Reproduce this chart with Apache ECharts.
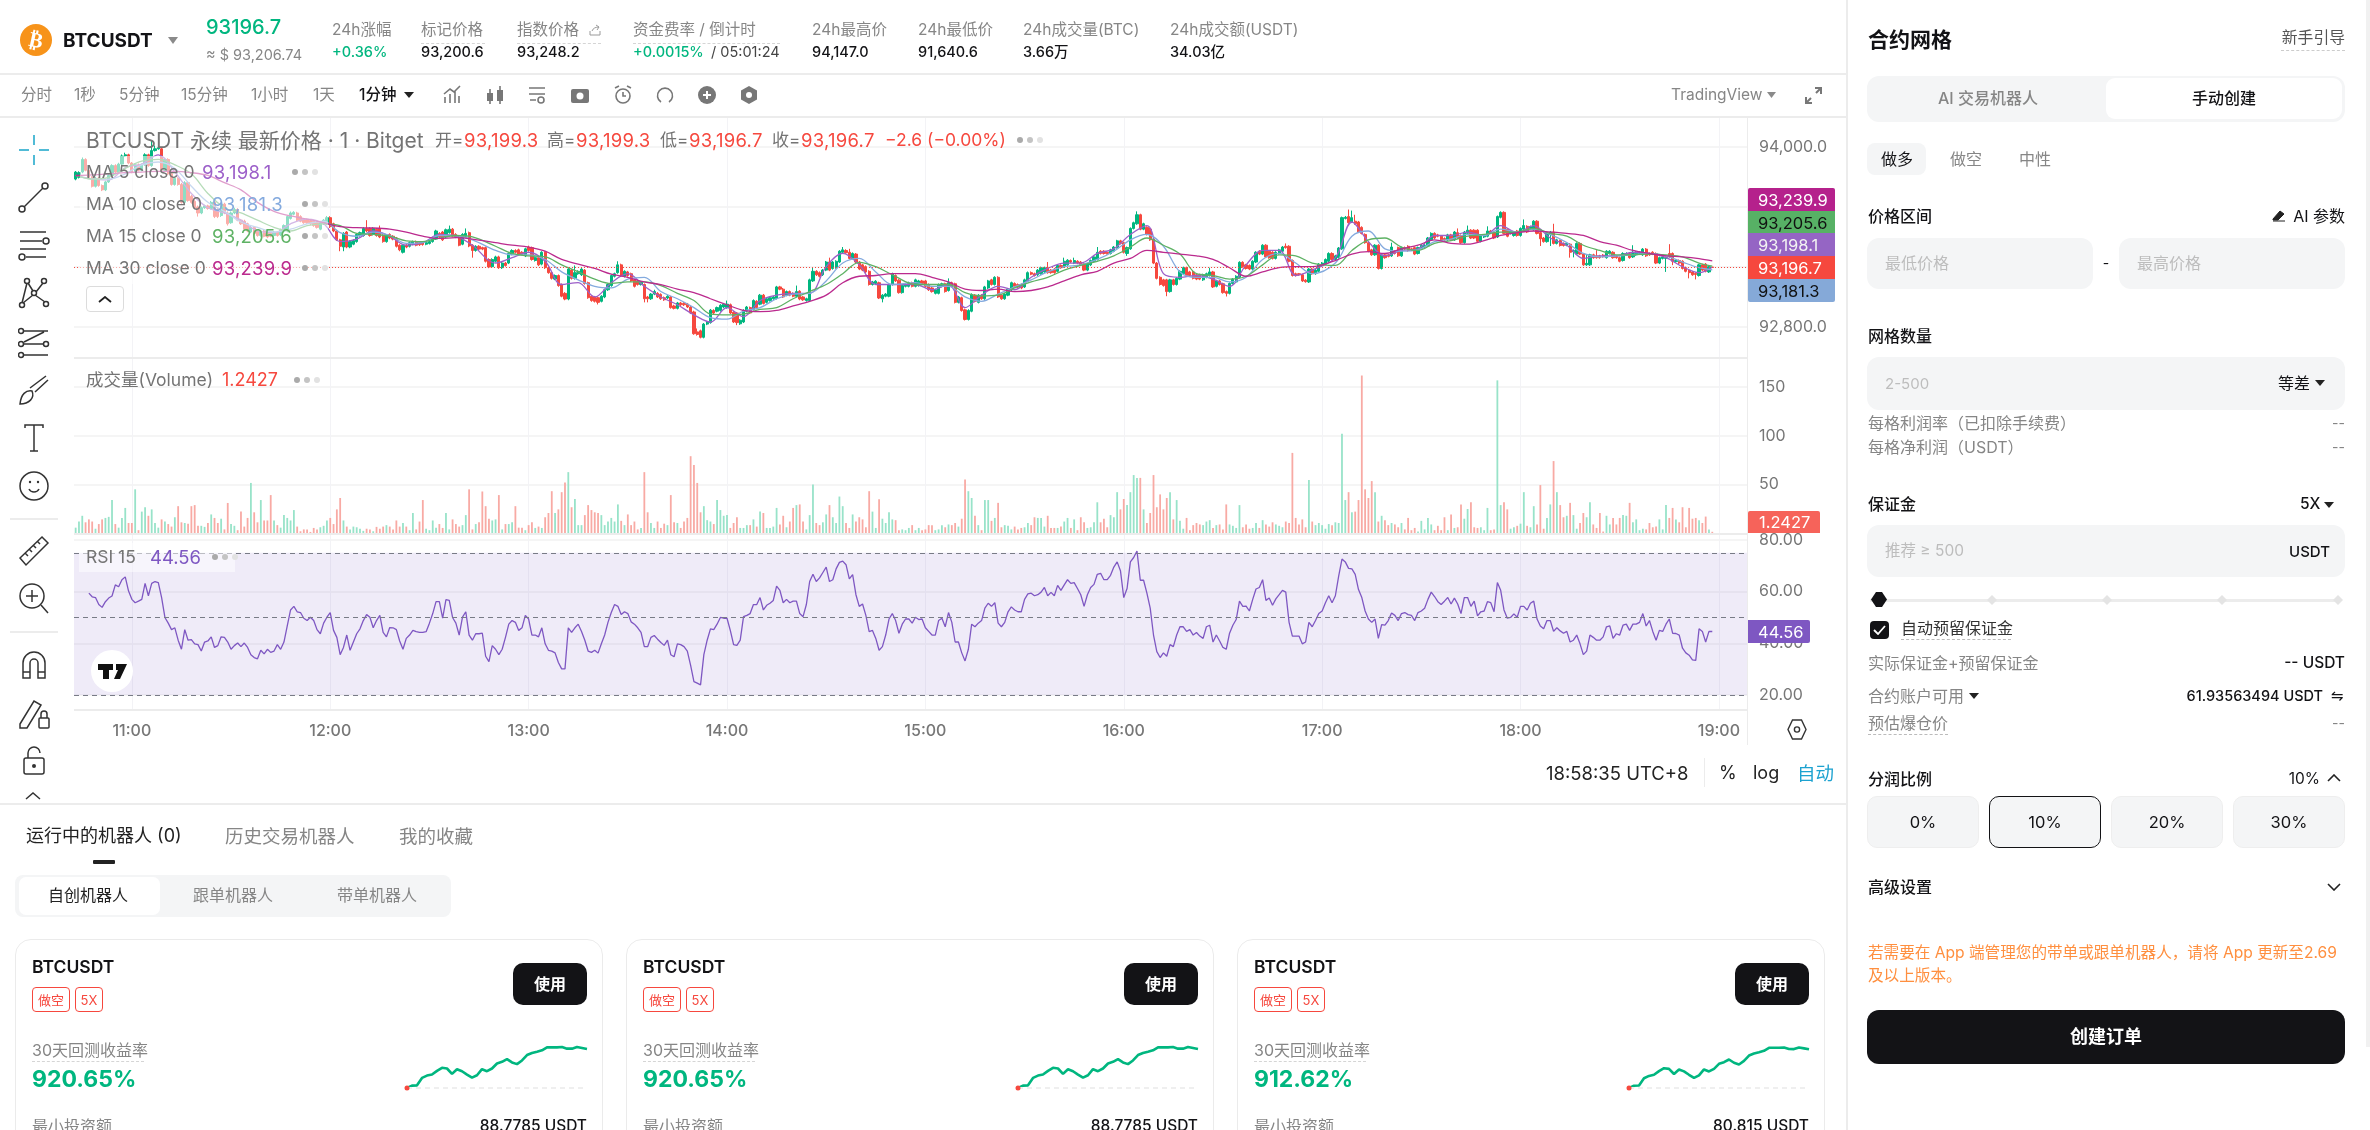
<!DOCTYPE html>
<html><head><meta charset="utf-8"><title>BTCUSDT</title>
<script src="https://cdn.jsdelivr.net/npm/echarts@6/dist/echarts.min.js"></script>
<style>
html,body{margin:0;padding:0;background:#fff;width:2370px;height:1130px;overflow:hidden}
#chart{position:absolute;left:0;top:0;width:2370px;height:1130px}
#ui{position:absolute;left:0;top:0;width:2370px;height:1130px;overflow:hidden;pointer-events:none;font-family:Inter,"Noto Sans CJK SC",sans-serif;color:#131316;font-size:16px}
#ui div,#ui svg{position:absolute}
.t{white-space:nowrap;line-height:1;transform:translateY(-50%)}
</style></head><body><div id="chart"></div><div id="ui"></div>
<script>
const opens=[93786,93798,93833,93917,93845,93798,93738,93791,93743,93714,93767,93810,93876,93833,93886,93940,93948,93893,93833,93881,93845,93881,93948,93876,93976,93988,93988,93845,93917,93821,93750,93791,93750,93631,93762,93671,93638,93600,93560,93595,93607,93590,93631,93583,93543,93619,93560,93495,93560,93583,93512,93505,93488,93433,93464,93440,93410,93440,93424,93424,93410,93433,93414,93440,93440,93524,93552,93560,93536,93519,93514,93510,93505,93495,93452,93488,93488,93529,93488,93440,93381,93333,93433,93333,93352,93369,93410,93410,93457,93457,93417,93452,93457,93410,93369,93417,93405,93393,93345,93298,93345,93338,93352,93369,93362,93360,93352,93357,93369,93386,93424,93433,93400,93429,93452,93417,93400,93352,93405,93429,93345,93310,93338,93329,93329,93250,93202,
93238,93267,93195,93226,93226,93286,93310,93314,93298,93274,93333,93329,93243,93262,93219,93298,93195,93162,93119,93143,93083,93024,92986,93179,93124,93155,93148,93179,93095,93005,93000,92995,92971,93000,93048,93076,93138,93162,93214,93138,93167,93155,93114,93107,93083,93083,93000,92988,93019,93024,93017,92995,92993,93000,92940,92924,92960,92957,92952,92933,92900,92767,92774,92731,92819,92829,92910,92905,92910,92933,92929,92948,92898,92893,92821,92833,92905,92929,92917,92971,92952,93012,92964,92976,92988,92990,93067,93052,93012,93036,93024,93005,93038,93000,92976,92976,93107,93171,93162,93148,93179,93233,93190,93195,93233,93298,93310,93298,93257,93286,93233,93214,93202,93171,93083,93090,93095,92988,93005,93005,93083,93143,93112,93029,93071,93071,93095,
93071,93076,93107,93107,93083,93060,93024,93024,93071,93088,93043,93095,93088,92964,92995,92914,92850,92905,93012,92964,93012,92988,93060,93114,93083,93131,93012,92988,93012,93048,93090,93083,93083,93067,93107,93162,93155,93148,93155,93167,93195,93179,93186,93171,93210,93202,93214,93243,93226,93238,93233,93221,93179,93214,93238,93250,93305,93305,93298,93290,93305,93329,93374,93362,93290,93321,93457,93488,93548,93452,93464,93452,93386,93226,93131,93114,93114,93036,93114,93083,93119,93155,93195,93167,93167,93148,93148,93114,93131,93143,93167,93071,93107,93088,93036,93024,93090,93100,93131,93231,93214,93210,93186,93233,93305,93286,93345,93305,93298,93257,93290,93305,93338,93338,93243,93155,93155,93148,93112,93100,93186,93155,93171,93210,93219,93238,93290,
93250,93262,93321,93524,93536,93500,93505,93500,93464,93417,93362,93314,93281,93345,93190,93281,93281,93274,93305,93329,93274,93329,93338,93321,93329,93290,93321,93333,93340,93381,93424,93414,93405,93390,93381,93414,93381,93429,93410,93362,93424,93445,93445,93445,93371,93400,93405,93440,93433,93400,93531,93564,93452,93424,93410,93440,93410,93452,93471,93457,93448,93505,93429,93393,93369,93417,93433,93357,93376,93357,93345,93352,93302,93286,93357,93286,93214,93214,93281,93274,93274,93279,93262,93290,93298,93271,93262,93243,93281,93290,93267,93281,93290,93281,93319,93290,93298,93290,93226,93257,93257,93290,93290,93236,93243,93238,93195,93179,93167,93157,93143,93214,93219,93167,93199.3];
const closes=[93833,93829,93917,93845,93798,93738,93791,93743,93714,93767,93810,93876,93833,93886,93940,93948,93893,93833,93881,93845,93881,93948,93876,93976,93988,93995,93845,93917,93821,93750,93791,93750,93631,93762,93643,93631,93595,93560,93595,93607,93590,93631,93536,93536,93619,93560,93488,93560,93583,93512,93488,93452,93440,93464,93424,93410,93440,93405,93400,93405,93433,93410,93448,93476,93536,93560,93564,93512,93505,93495,93495,93488,93476,93464,93495,93512,93529,93469,93440,93381,93338,93424,93333,93369,93376,93417,93429,93457,93440,93410,93457,93410,93400,93369,93410,93393,93386,93338,93314,93345,93333,93362,93369,93345,93348,93350,93362,93369,93393,93440,93400,93381,93448,93452,93405,93400,93345,93417,93424,93340,93310,93338,93319,93319,93238,93200,93250,
93267,93195,93226,93210,93290,93310,93298,93281,93286,93321,93310,93250,93262,93214,93298,93195,93162,93124,93143,93076,93005,92986,93186,93124,93162,93171,93186,93090,92995,92976,92971,92964,93005,93048,93083,93143,93155,93214,93143,93171,93143,93107,93071,93083,93100,92988,92988,93019,93036,93000,92988,92981,93005,92929,92924,92960,92948,92948,92933,92893,92755,92750,92731,92819,92833,92912,92893,92929,92945,92952,92952,92893,92833,92829,92845,92910,92933,92893,92976,92929,93012,92957,92988,92995,93000,93067,93052,93000,93036,93012,93005,93036,92986,92981,92988,93114,93171,93148,93138,93179,93233,93179,93233,93238,93305,93314,93295,93257,93290,93233,93186,93179,93167,93083,93100,93105,92993,93012,93019,93083,93155,93107,93029,93076,93083,93095,93071,
93114,93107,93090,93071,93048,93036,93048,93083,93088,93036,93095,93071,92964,93000,92910,92850,92910,93017,92971,93012,92988,93067,93107,93083,93131,93000,92988,93019,93052,93095,93071,93067,93060,93114,93162,93152,93143,93179,93195,93195,93162,93162,93162,93210,93195,93238,93245,93233,93243,93226,93214,93179,93221,93243,93267,93298,93290,93290,93290,93314,93333,93374,93357,93298,93329,93457,93495,93548,93452,93488,93417,93381,93226,93124,93083,93076,93036,93114,93083,93124,93171,93195,93143,93143,93124,93119,93119,93148,93155,93167,93067,93107,93083,93029,93024,93090,93119,93138,93231,93202,93190,93186,93238,93298,93286,93345,93267,93262,93257,93298,93314,93333,93329,93238,93143,93143,93148,93107,93102,93186,93155,93179,93219,93226,93250,93290,93250,
93274,93326,93529,93531,93495,93529,93488,93433,93424,93362,93305,93281,93345,93190,93281,93262,93271,93333,93290,93274,93329,93319,93310,93314,93286,93329,93345,93345,93393,93424,93393,93405,93381,93381,93414,93381,93433,93393,93362,93433,93445,93393,93393,93371,93410,93410,93440,93429,93393,93536,93564,93424,93405,93438,93433,93410,93457,93476,93433,93469,93505,93424,93388,93369,93424,93433,93357,93381,93343,93343,93357,93298,93310,93357,93286,93214,93224,93281,93262,93262,93262,93269,93305,93305,93262,93262,93238,93290,93290,93262,93290,93298,93298,93319,93274,93281,93286,93226,93262,93267,93262,93267,93238,93243,93226,93190,93171,93162,93148,93150,93214,93179,93171,93202,93196.7];
const highs=[93840,93838,93930,93925,93852,93805,93800,93800,93750,93775,93818,93885,93885,93895,93950,93962,93955,93900,93890,93890,93890,93958,93955,94040,94010,94018,94000,93925,93925,93830,93800,93798,93760,93772,93772,93680,93645,93610,93603,93615,93615,93640,93640,93592,93628,93628,93570,93570,93595,93592,93520,93515,93495,93472,93472,93448,93448,93448,93432,93432,93440,93440,93455,93484,93545,93570,93572,93568,93545,93525,93522,93518,93512,93502,93502,93520,93540,93538,93495,93448,93388,93432,93440,93378,93384,93425,93436,93465,93512,93465,93465,93460,93476,93418,93418,93424,93412,93400,93352,93352,93352,93370,93376,93376,93370,93366,93370,93376,93400,93448,93432,93440,93456,93476,93460,93425,93408,93425,93457,93436,93352,93345,93345,93335,93336,93258,93258,
93275,93275,93234,93234,93298,93318,93318,93322,93305,93328,93342,93336,93270,93270,93305,93305,93202,93170,93150,93150,93090,93032,93195,93186,93210,93178,93192,93186,93102,93012,93007,93003,93012,93055,93090,93150,93162,93238,93222,93178,93174,93162,93122,93114,93107,93090,93007,93026,93048,93032,93024,93003,93012,93007,92948,92967,92967,92965,92960,92940,92908,92790,92782,92826,92840,92920,92918,92936,92952,92960,92976,92956,92905,92900,92852,92918,92940,92936,92984,92978,93020,93020,92995,93002,93007,93074,93074,93060,93043,93043,93031,93076,93045,93007,92995,93122,93195,93178,93170,93186,93240,93262,93240,93245,93312,93333,93318,93321,93297,93293,93240,93221,93210,93178,93107,93112,93102,93019,93026,93090,93162,93150,93119,93083,93090,93102,93102,
93122,93114,93114,93114,93090,93067,93055,93090,93095,93095,93124,93102,93095,93007,93002,92922,92918,93024,93019,93019,93019,93074,93114,93121,93138,93138,93019,93026,93060,93102,93097,93090,93090,93122,93170,93170,93162,93186,93202,93202,93233,93186,93193,93217,93217,93262,93252,93250,93262,93245,93240,93228,93228,93250,93274,93333,93312,93312,93305,93321,93340,93381,93381,93369,93336,93464,93502,93571,93555,93495,93471,93460,93393,93233,93138,93121,93121,93121,93121,93131,93178,93202,93202,93174,93174,93155,93155,93155,93162,93195,93174,93114,93114,93095,93043,93097,93126,93145,93238,93238,93221,93217,93245,93305,93312,93352,93352,93312,93305,93305,93321,93340,93357,93345,93250,93162,93160,93155,93119,93193,93193,93186,93226,93233,93257,93298,93298,
93281,93333,93536,93540,93583,93576,93548,93507,93471,93424,93370,93321,93352,93352,93288,93288,93288,93362,93312,93336,93336,93336,93345,93328,93336,93336,93352,93352,93400,93431,93431,93421,93412,93397,93421,93421,93440,93457,93417,93440,93476,93452,93452,93452,93417,93417,93471,93447,93440,93543,93571,93571,93459,93445,93440,93447,93464,93517,93478,93476,93512,93512,93436,93400,93431,93440,93488,93388,93383,93364,93364,93359,93317,93364,93364,93293,93286,93288,93288,93312,93281,93286,93312,93312,93305,93278,93269,93298,93298,93298,93345,93305,93305,93326,93326,93297,93305,93297,93269,93274,93269,93352,93297,93250,93250,93245,93202,93186,93174,93164,93221,93221,93226,93209,93199.3];
const lows=[93778,93790,93825,93838,93790,93730,93730,93735,93706,93706,93760,93802,93826,93826,93880,93935,93885,93825,93826,93838,93838,93875,93868,93868,93970,93982,93838,93838,93814,93742,93742,93742,93622,93622,93635,93622,93587,93536,93552,93588,93582,93583,93526,93526,93534,93552,93476,93488,93552,93505,93480,93444,93432,93426,93416,93402,93402,93398,93392,93398,93402,93402,93406,93432,93432,93516,93545,93505,93498,93488,93488,93480,93468,93456,93445,93480,93480,93460,93432,93373,93305,93305,93325,93325,93345,93362,93402,93402,93432,93402,93410,93402,93392,93362,93362,93385,93378,93330,93305,93290,93325,93330,93345,93338,93340,93342,93345,93350,93362,93380,93392,93373,93392,93422,93398,93392,93338,93345,93398,93332,93262,93302,93312,93312,93230,93192,93195,
93230,93187,93187,93202,93219,93278,93290,93274,93278,93266,93302,93242,93236,93206,93211,93187,93155,93116,93112,93068,92998,92978,92978,93116,93116,93148,93140,93082,92988,92968,92963,92950,92964,92992,93040,93068,93130,93155,93135,93130,93135,93100,93063,93076,93076,92964,92964,92980,93012,92993,92980,92974,92986,92922,92917,92917,92940,92940,92926,92886,92748,92742,92724,92724,92812,92822,92886,92898,92902,92926,92922,92886,92826,92812,92814,92826,92898,92886,92910,92922,92945,92950,92957,92969,92981,92983,93045,92993,93005,93005,92998,92998,92978,92974,92969,92969,93100,93140,93130,93140,93172,93172,93182,93188,93226,93291,93288,93250,93250,93226,93179,93172,93160,93076,93076,93083,92986,92964,92998,92998,93076,93100,93022,93022,93064,93064,93064,
93064,93069,93083,93064,93040,93029,93017,93017,93064,93029,93036,93064,92957,92957,92902,92843,92843,92898,92964,92957,92981,92981,93052,93076,93076,92993,92981,92981,93005,93040,93064,93060,93052,93060,93100,93145,93136,93140,93148,93160,93155,93155,93155,93164,93188,93195,93207,93226,93219,93219,93207,93172,93172,93207,93231,93243,93283,93283,93283,93283,93298,93322,93350,93290,93274,93314,93450,93481,93445,93445,93410,93374,93219,93117,93076,93069,93005,93029,93076,93076,93112,93148,93136,93136,93117,93112,93112,93107,93124,93136,93060,93064,93076,93022,93003,93017,93083,93093,93124,93195,93183,93179,93179,93226,93279,93279,93260,93255,93250,93250,93283,93298,93322,93231,93136,93136,93141,93100,93095,93093,93148,93148,93164,93202,93212,93231,93243,
93243,93255,93314,93517,93488,93493,93481,93426,93417,93355,93298,93274,93274,93183,93183,93255,93264,93267,93283,93267,93267,93312,93302,93307,93279,93283,93314,93326,93333,93374,93386,93398,93374,93374,93374,93374,93374,93386,93355,93355,93417,93386,93386,93364,93364,93393,93398,93421,93386,93393,93524,93417,93398,93417,93402,93402,93402,93445,93426,93450,93441,93417,93340,93362,93362,93340,93350,93350,93336,93336,93338,93262,93264,93279,93279,93207,93207,93207,93255,93255,93255,93262,93255,93283,93255,93255,93231,93236,93274,93255,93260,93274,93283,93274,93267,93274,93279,93219,93219,93250,93167,93260,93212,93229,93219,93183,93164,93124,93141,93117,93136,93172,93164,93160,93196.7];
const volumes=[5.5,11.8,17.7,11,14,11.8,4.4,9.2,14,15.5,16.6,33.9,9.2,5.5,15.5,25.8,10.3,10.3,44.9,2.9,22,26.5,17.7,24.3,10.3,5.5,14,11.8,9.2,6.6,16.2,27.6,11,10.3,9.6,27.6,28.7,7.4,7.4,6.3,10.3,19.1,15.5,10.3,14.7,3.7,30.9,9.2,7.4,2.9,22,6.6,15.5,51.5,21.3,11,33.9,12.9,12.9,39,12.9,8.1,5.5,18.4,15.5,12.9,23.6,6.6,1.8,3.7,3.7,1.1,5.2,3.7,5.9,7.4,12.9,15.5,9.2,24.3,36,12.9,6.6,3.7,6.6,5.9,4.4,2.2,4.4,3.7,1.8,6.3,4.4,6.6,8.1,6.6,3.7,12.9,6.6,10.3,6.6,2.9,20.6,3.7,11.8,33.9,4.4,2.9,12.9,5.5,9.2,5.2,20.6,3.7,14,9.2,6.6,8.1,18.4,44.9,3.7,9.2,11,42.7,27.6,14.7,12.9,
14,39,3.7,9.2,9.2,11,27.6,5.5,5.5,2.9,8.1,11,5.2,6.6,5.2,16.2,20.6,43,20.6,24.3,42,52,62.6,26.5,35,8.1,8.1,18.4,28.7,23.6,21.3,20.6,18.4,8.1,11.8,15.5,11.8,29.4,12.5,8.1,19.1,8.1,11.8,3.7,5.2,62.6,21.3,10.3,5.2,11.8,5.2,9.6,8.1,39,11,10.3,5.2,11.8,15.5,79,70,51.5,21.3,27.6,13.2,11.8,9.2,33.9,23.6,17.7,18.4,5.2,10.3,16.2,5.2,5.2,8.1,8.1,14,6.6,22,20.6,5.2,5.2,6.6,25.8,8.8,17.7,5.9,11.8,25.8,28.7,29.4,11.8,3.7,18.4,50,10.3,8.1,11,19.1,28.7,16.2,10.3,37.5,27.6,10.3,5.2,19.1,11.8,16.2,14,5.9,43,22,5.2,34.6,14.7,10.3,21.3,14,13.2,2.9,3.7,2.9,5.2,8.1,
2.9,5.2,2.9,3.7,8.1,8.1,2.9,3.7,8.1,5.9,8.8,8.1,10.3,6.6,14.7,55,43,36,17.7,8.1,2.9,33.9,33.9,12.5,15.5,31,5.9,8.1,7.4,3.7,6.6,3.7,5.2,5.9,10.3,8.1,16.2,15.5,15.5,6.6,17.7,5.2,5.2,5.2,6.6,11.8,15.5,5.2,14,2.9,16.2,11,5.2,5.9,11,31.6,11,14.7,5.9,18.4,16.2,42,24.3,35,28.7,42,59.6,56.7,56.7,24.3,10.3,20.6,59.6,26.5,39.7,24.3,36,42,14,33.9,12.5,4.4,15.5,2.9,8.1,10.3,8.8,8.1,11.8,13.2,5.2,8.1,8.8,3.7,29.4,8.8,7.4,5.2,28.7,5.9,8.8,4.4,5.2,10.3,5.2,13.2,8.8,6.6,11,8.8,7.4,5.9,11.8,10.3,82.4,15.5,8.8,14,5.9,54.5,11.8,8.1,10.3,8.1,4.4,9.2,8.1,
11,10.3,102,33.9,42,21.3,22,33.9,162,44.9,36,53.4,42,11.8,17.7,13.2,8.1,10.3,8.8,5.9,10.3,3.7,15.5,2.9,5.2,1.5,12.5,3.7,15.5,8.8,2.9,7.4,2.9,16.2,2.9,19.1,5.2,5.9,29.4,14.7,24.7,31.6,5.9,5.2,5.9,2.9,25.8,2.9,3.7,157,28.7,31.6,24.3,4.4,5.9,7.4,9.6,42,7.4,5.9,27.6,8.8,49.3,4.4,15.5,29.4,74,42,28.7,16.2,17.7,31,18.4,4.4,10.3,20.6,16.2,31.6,8.8,5.2,20.6,1.5,17.7,8.8,15.5,8.8,15.5,18.4,17.7,31,11,14,2.9,4.4,3.7,10.3,5.9,6.6,14,3.7,28.7,15.5,25.8,14,11,26.5,5.9,25.8,14.7,15.5,13.2,10.3,16.9,3.7,1.2427];
const rsi15=[null,null,null,null,59.4,58,57.7,55,53.9,56.1,57.5,58.3,62.6,61.9,64.6,65.7,60.2,57,55.7,56.3,57,63.2,58.4,63.2,63.9,63.5,57.7,50,47.8,45.3,46,41.2,37.7,45.3,41.2,41.4,39.8,39.5,37,40.5,40.9,42.5,38.4,39.1,42.5,42.3,40.5,37.7,39.1,40.1,38.7,40.1,38.4,35.6,34.5,34,37.3,35.9,37.7,36.5,37,39.5,37.7,40.5,46.7,52.9,54.3,52.2,51.9,49.7,48.8,50.1,48.8,45.3,43.7,47.8,50.1,51.9,45,42.3,35.6,38.4,43.2,37.3,40.5,43.7,45.6,48.8,51.1,50.1,46,48.8,50.8,44.2,42.5,46.1,46,45.3,40.9,37.7,41.9,43.2,45,44.5,44.2,44.2,44.5,47.8,51.5,56.1,56.1,49.7,56.9,56.6,50,47.8,43.2,50.1,52.2,43.2,41.2,43.7,43.7,43.9,35,32.9,39.1,
37.7,35.6,37.7,42.3,47.4,48.8,48.1,45,46,50.8,49.4,43.2,43.2,42.5,46,39.8,37.3,37,36.3,32.6,30.1,30.1,46,44.2,46,47.4,44.6,41.2,37,36.5,37.3,36.2,39.8,43.2,48.1,51.9,55,54.3,51.1,52.2,51.5,48.3,47.4,46,44.2,38.7,38.7,42.3,43,41.6,40.3,39.2,41.2,35.6,34.8,39.8,39.5,38.7,37,31.5,25.2,24.6,23.9,35.6,41.2,45.6,45.3,47.4,50,49.7,49.7,45,39.5,39.2,41.2,50.3,50.8,51.5,55,55,57.7,52.9,54.7,55.5,56.6,62.1,60.5,55.7,57,55.7,56.3,56.3,51.5,50.3,55,63.9,66.7,63.9,65.3,67.4,69.5,63.9,64.6,68.8,71.3,71.8,70.4,64.9,66.6,58.8,54.3,55.2,50.8,44.5,45,41.9,37.3,38.7,43.2,49.4,51.5,48.8,43.9,47.4,49.4,49.4,47.8,
50.1,49.2,49.4,46,44.6,43.2,43.2,48.8,49.7,46.4,51.9,48.1,40.5,40.5,36.3,33.2,37.7,47.4,46.4,47.8,48.8,53.6,55.5,54.3,55.7,47.8,46.4,48.1,52.2,54.1,52.9,52.2,52.2,57,59.1,59.4,58.4,58.8,59.8,61.6,58.4,59.7,58.4,62.4,60.5,62.6,64.6,63.2,63.5,61.2,58.8,54.3,58.8,61.6,62.8,66.7,67.1,64.6,64.6,66.3,69.5,71.5,68.1,57.7,61.2,71.5,73.2,75.7,64.4,64.4,59.4,53.6,43.2,36.8,34.5,36.3,35,39.5,38.7,43.2,46.4,46.4,44.6,45.3,43.2,44.2,42.8,41.9,46.4,47,40.5,43.2,40.9,38.4,37.7,43.9,47,49.2,56.3,54.3,54.4,52.5,57,61,61.6,64.6,56.6,57.5,54.7,57.2,58.8,60.5,59.8,48.1,42.8,42.8,42.8,39.8,40.5,48.1,46.4,48.8,51.5,52.5,55.7,58.4,55.7,
58.4,66,72.6,71.5,69,68.8,66.7,60.8,57.7,52.5,49.4,48.1,49.4,41.9,47.2,47,48.8,51.7,50.8,48.8,51.5,51.9,51.1,50.8,48.8,51.9,52.5,53.6,57,59.8,58.1,56.1,55,56.3,57.7,55.2,57.5,55.2,51.5,57.7,57.7,54.3,56.3,50.6,52.2,52.5,56.1,55.7,52.2,63.5,60.5,52.9,49.7,50,51.4,50.1,54.3,54.3,52.9,55.5,56.3,49.4,46.7,45.6,48.8,48.8,44.6,46,44.8,43.9,44.6,40.5,41.2,43.2,39.8,35.6,37,43.2,42.3,41.2,41.2,42.5,46.4,46.7,41.9,43.7,43.2,47,47.4,45,47.4,47.4,48.1,51.5,46.7,48.8,44.6,41.2,45,44.6,47.4,49.4,43.9,43.8,43.2,38.1,36.3,35.4,33.6,33.4,45.6,44.6,40.5,44.6,44.56];
const ma5=[93810,93786,93781,93862,93886,93948,93833,93690,93595,93560,93512,93440,93429,93488,93519,93488,93369,93386,93440,93405,93345,93362,93417,93405,93345,93226,93262,93298,93238,93083,93095,93000,93095,93155,93071,93000,92948,92881,92833,92929,92869,92976,93012,93024,93024,93202,93290,93214,93083,93083,93083,93048,93083,92929,93012,93071,93048,93131,93190,93226,93226,93290,93321,93417,93476,93155,93131,93143,93119,93071,93214,93310,93310,93143,93179,93262,93500,93369,93274,93310,93321,93410,93410,93433,93410,93476,93429,93476,93393,93345,93257,93274,93274,93298,93290,93262,93202,93162,93198];
const ma10=[93810,93786,93786,93821,93881,93900,93857,93738,93631,93571,93500,93464,93433,93452,93488,93505,93429,93405,93433,93410,93357,93362,93410,93410,93381,93310,93281,93281,93250,93167,93114,93071,93060,93119,93131,93036,92988,92929,92862,92852,92905,92929,92988,93019,93024,93107,93226,93257,93167,93083,93095,93071,93071,93000,92971,93019,93067,93114,93167,93202,93214,93250,93305,93381,93417,93338,93167,93131,93131,93100,93131,93250,93290,93226,93155,93226,93405,93440,93321,93305,93314,93369,93386,93417,93410,93452,93433,93452,93417,93362,93290,93267,93274,93281,93290,93274,93233,93195,93181];
const ma15=[93810,93786,93798,93857,93905,93917,93881,93821,93690,93595,93560,93512,93464,93440,93476,93488,93476,93424,93417,93405,93374,93369,93393,93410,93400,93338,93290,93274,93267,93214,93167,93119,93090,93100,93100,93076,93024,92976,92886,92881,92886,92917,92929,92988,93036,93083,93155,93231,93202,93148,93083,93083,93083,93029,93007,93012,93060,93100,93131,93179,93210,93238,93274,93333,93393,93345,93286,93155,93143,93119,93138,93214,93281,93274,93226,93210,93310,93381,93393,93333,93310,93357,93376,93405,93417,93433,93433,93457,93424,93405,93345,93310,93281,93281,93286,93281,93267,93226,93206];
const ma30=[93810,93814,93821,93829,93833,93838,93838,93829,93810,93762,93714,93631,93571,93540,93519,93495,93469,93462,93460,93452,93433,93405,93390,93395,93386,93362,93345,93333,93305,93250,93219,93190,93152,93131,93100,93083,93052,93029,92988,92948,92910,92902,92910,92940,92971,93012,93095,93138,93143,93155,93155,93131,93100,93052,93043,93052,93036,93043,93067,93107,93148,93171,93226,93257,93310,93298,93286,93274,93250,93195,93138,93167,93195,93202,93202,93243,93286,93302,93290,93321,93345,93381,93357,93352,93376,93410,93429,93440,93433,93424,93410,93369,93345,93310,93290,93274,93267,93255,93240];
const maIndex=[0,5,10,15,20,25,30,35,40,45,50,55,60,65,70,75,80,85,90,95,100,105,110,115,120,127,132,137,142,147,152,157,162,167,172,177,182,187,192,197,202,207,212,217,222,227,232,237,242,247,254,259,264,269,274,279,284,289,294,299,304,309,314,319,324,329,334,339,344,349,354,359,364,369,374,381,386,391,396,401,406,411,416,421,426,431,436,441,446,451,456,461,466,471,476,481,486,491,495];
const spark1=[0,56,63,238,293,317,404,476,460,333,444,396,317,246,301,444,396,460,579,618,682,603,563,650,777,825,856,888,959,959,959,967,928,928,967,944,920];
const spark2=[0,56,63,238,293,317,404,476,460,333,444,396,317,246,301,444,396,460,579,618,682,603,563,650,777,825,856,888,959,959,959,967,928,928,967,944,920];
const spark3=[0,52,60,230,285,312,398,468,452,330,438,392,312,240,298,438,390,452,570,610,672,596,556,640,766,815,846,878,948,950,948,956,920,918,955,935,912];
const hourLabels=["11:00","12:00","13:00","14:00","15:00","16:00","17:00","18:00","19:00"];
const priceGrid=[94000,93600,93200,92800],priceLabels=[94000,92800],volTicks=[50,100,150],rsiTicks=[20,40,60,80];
const lastPrice=93196.7;
const minutes=[];for(let m=10*60+43;m<=19*60+8;m++){minutes.push(String(Math.floor(m/60)).padStart(2,'0')+':'+String(m%60).padStart(2,'0'))}
const UP='#00b67f',DN='#f6483e';
const isHour=(i,v)=>hourLabels.includes(v);
const grid=(top,height)=>({left:74,width:1673,top,height});
const xBase=(g,label)=>({type:'category',gridIndex:g,data:minutes,boundaryGap:true,axisLine:{show:false},
 axisTick:{show:false,alignWithLabel:true,interval:isHour},
 splitLine:{show:true,alignWithLabel:true,interval:isHour,lineStyle:{color:'#f3f3f6',width:1}},
 axisLabel:label?{show:true,interval:isHour,color:'#777',fontSize:16,fontWeight:500,fontFamily:'Inter',margin:13,hideOverlap:false}:{show:false}});
const yBase=(g,min,max,ticks,labels,fmt)=>({type:'value',gridIndex:g,position:'right',min,max,scale:true,
 axisLine:{show:false},axisTick:{show:false,customValues:ticks},
 splitLine:{show:true,lineStyle:{color:'#f2f2f2',width:1.5}},
 axisLabel:{show:true,customValues:labels,formatter:fmt,color:'#777',fontSize:16,fontFamily:'Inter',margin:12,align:'left'}});
const fmt1=v=>Number(v).toLocaleString('en-US',{minimumFractionDigits:1,maximumFractionDigits:1});
const maLine=(vals,color,name)=>({name,type:'line',xAxisIndex:0,yAxisIndex:0,data:vals.map((v,k)=>[maIndex[k],v]),symbol:'none',smooth:0.35,lineStyle:{color,width:1.3},silent:true,z:4});
const hidden=(g,d)=>({type:'category',gridIndex:g,data:d.map((_,i)=>i),show:false,boundaryGap:false});
const sparkSeries=(d,i)=>({type:'line',xAxisIndex:3+i,yAxisIndex:3+i,data:d,symbol:'none',silent:true,lineStyle:{color:UP,width:2.6},
 markLine:{silent:true,symbol:'none',label:{show:false},lineStyle:{color:'#efefef',type:[5,4],width:2},data:[{yAxis:0}]},
 markPoint:{silent:true,symbol:'circle',symbolSize:5,itemStyle:{color:DN},label:{show:false},data:[{coord:[0,0]}]}});
const chart=echarts.init(document.getElementById('chart'),null,{renderer:'canvas'});
chart.setOption({animation:false,backgroundColor:'#fff',
 grid:[grid(117,241),grid(358,175),grid(535,175),{left:407,width:180,top:1046,height:42},{left:1018,width:180,top:1046,height:42},{left:1629,width:180,top:1046,height:42}],
 xAxis:[xBase(0,false),xBase(1,false),xBase(2,true),hidden(3,spark1),hidden(4,spark2),hidden(5,spark3)],
 yAxis:[yBase(0,92593,94200,priceGrid,priceLabels,fmt1),
  yBase(1,0,180,volTicks,volTicks,v=>String(v)),
  yBase(2,14.2,81.9,rsiTicks,rsiTicks,v=>Number(v).toFixed(2)),
  {type:'value',gridIndex:3,min:0,max:991,show:false},{type:'value',gridIndex:4,min:0,max:991,show:false},{type:'value',gridIndex:5,min:0,max:991,show:false}],
 series:[
  {name:'BTCUSDT',type:'candlestick',xAxisIndex:0,yAxisIndex:0,barWidth:2.7,silent:true,z:3,
   data:closes.map((c,i)=>[opens[i],c,lows[i],highs[i]]),
   itemStyle:{color:UP,color0:DN,borderColor:UP,borderColor0:DN,borderWidth:1},
   markLine:{silent:true,symbol:'none',label:{show:false},lineStyle:{color:DN,type:[1,2],width:1},data:[{yAxis:lastPrice}]}},
  maLine(ma5,'#9c5fc9','MA 5'),maLine(ma10,'#84aade','MA 10'),maLine(ma15,'#5eb264','MA 15'),maLine(ma30,'#bb2a8e','MA 30'),
  {name:'Volume',type:'bar',xAxisIndex:1,yAxisIndex:1,barWidth:1.8,silent:true,
   data:volumes.map((v,i)=>({value:v,itemStyle:{color:closes[i]>=opens[i]?'#98e3c9':'#f8aaa4'}}))},
  {name:'RSI',type:'line',xAxisIndex:2,yAxisIndex:2,data:rsi15,symbol:'none',silent:true,connectNulls:false,lineStyle:{color:'#7e57c2',width:1.3},z:4,
   markArea:{silent:true,itemStyle:{color:'rgba(126,87,194,0.12)'},data:[[{yAxis:20},{yAxis:75}]]},
   markLine:{silent:true,symbol:'none',label:{show:false},lineStyle:{color:'#787b86',type:[5,4],width:1},data:[{yAxis:75},{yAxis:50},{yAxis:20}]}},
  sparkSeries(spark1,0),sparkSeries(spark2,1),sparkSeries(spark3,2)
 ]});

/* ---------- page chrome around the chart ---------- */
const ui=document.getElementById('ui');
function R(x,y,w,h,st){const d=document.createElement('div');d.style.cssText=`left:${x}px;top:${y}px;width:${w}px;height:${h}px;`+(st||'');ui.appendChild(d);return d}
function T(s,x,y,st,a){const d=document.createElement('div');d.className='t';d.textContent=s;
 const tx=a==='c'?'translate(-50%,-50%)':a==='r'?'translate(-100%,-50%)':'translateY(-50%)';
 d.style.cssText=`left:${x}px;top:${y}px;transform:${tx};`+(st||'');ui.appendChild(d);return d}
function S(x,y,w,h,inner,vb){const n=document.createElementNS('http://www.w3.org/2000/svg','svg');n.setAttribute('width',w);n.setAttribute('height',h);n.setAttribute('viewBox',vb||`0 0 ${w} ${h}`);n.style.left=x+'px';n.style.top=y+'px';n.innerHTML=inner;ui.appendChild(n);return n}
const G='color:#868686;',GR='color:#00b67f;',RD='color:#f6483e;';
const LINE='#ececec';
/* legend veils sit over the candles */
R(80,156,238,32,'background:rgba(255,255,255,.55)');R(80,188,248,32,'background:rgba(255,255,255,.55)');R(80,220,248,32,'background:rgba(255,255,255,.55)');R(80,252,248,32,'background:rgba(255,255,255,.55)');R(79,543,156,29,'background:rgba(255,255,255,.5)');
/* frame lines */
R(0,73,1846,2,`background:${LINE}`);R(0,116,1846,2,`background:${LINE}`);
R(74,357,1673,2,`background:${LINE}`);R(74,533,1673,2,`background:${LINE}`);R(74,709,1673,2,`background:${LINE}`);
R(1747,117,1,628,`background:${LINE}`);R(0,803,1846,2,`background:${LINE}`);R(1846,0,2,1130,`background:${LINE}`);
R(2366,0,4,1047,'background:#f1f1f1');R(1704,758,1,29,`background:${LINE}`);
/* header */
S(20,24,32,32,'<circle cx="16" cy="16" r="16" fill="#f7931a"/><text x="16" y="23" font-size="21" font-weight="700" fill="#fff" text-anchor="middle" font-family="DejaVu Sans" transform="rotate(12 16 16)">₿</text>');
T('BTCUSDT',63,40,'font-size:19px;font-weight:700');S(168,37,10,7,'<path d="M0 0H10L5 7Z" fill="#8a8a8a"/>');
T('93196.7',206,27,'font-size:20px;font-weight:500;'+GR);T('≈ $ 93,206.74',206,55,'font-size:14.5px;'+G);
const heads=[['24h涨幅',332,'+0.36%',GR],['标记价格',421,'93,200.6',''],['指数价格',517,'93,248.2',''],['资金费率 / 倒计时',633,null,''],['24h最高价',812,'94,147.0',''],['24h最低价',918,'91,640.6',''],['24h成交量(BTC)',1023,'3.66万',''],['24h成交额(USDT)',1170,'34.03亿','']];
heads.forEach(h=>{T(h[0],h[1],30,'font-size:15.5px;'+G);if(h[2])T(h[2],h[1],52,'font-size:14.5px;font-weight:500;'+h[3])});
T('+0.0015%',633,52,'font-size:14.5px;font-weight:500;'+GR);T('/ 05:01:24',711,52,'font-size:14.5px;color:#444');
[[421,64],[517,84],[633,147]].forEach(a=>R(a[0],43,a[1],0,'border-top:1px dashed #d5d5d5'));
S(589,24,12,12,'<path d="M1 7V11H11V7M3 7C4 4 7 3 10 3M7 1L10 3L8 6" fill="none" stroke="#9a9a9a" stroke-width="1"/>');
/* toolbar */
[['分时',21],['1秒',74],['5分钟',119],['15分钟',181],['1小时',251],['1天',313]].forEach(a=>T(a[0],a[1],95,'font-size:15.5px;'+G));
T('1分钟',359,95,'font-size:15.5px;font-weight:500');S(404,92,10,6,'<path d="M0 0H10L5 6Z" fill="#222"/>');
const tb='fill="none" stroke="#777" stroke-width="1.6"';
S(443,85,18,20,`<path d="M2 18V12M7 18V9M12 18V6M16 18V11M1 9L7 4L11 7L17 1" ${tb}/>`);
S(486,85,18,20,'<path d="M1 8H7V16H1ZM11 5H17V16H11Z" fill="#777"/><path d="M4 4V19M14 1V19" stroke="#777" stroke-width="1.6"/>');
S(528,86,18,18,`<path d="M1 2H17M1 8H17M2 14H8" ${tb}/><circle cx="13" cy="14" r="3" ${tb}/>`);
S(571,87,18,16,'<rect x="0" y="2" width="18" height="14" rx="2" fill="#777"/><circle cx="9" cy="9" r="3.5" fill="#fff"/>');
S(614,85,18,20,`<circle cx="9" cy="11" r="7" ${tb}/><path d="M9 7V11H12M1 3L5 1M17 3L13 1" ${tb}/>`);
S(656,86,18,18,`<path d="M5 16A7.5 7.5 0 1 1 13 16" ${tb} stroke-width="2"/>`);
S(698,86,18,18,'<circle cx="9" cy="9" r="9" fill="#777"/><path d="M9 5V13M5 9H13" stroke="#fff" stroke-width="2"/>');
S(740,86,18,18,'<path d="M9 0L17 4.5V13.5L9 18L1 13.5V4.5Z" fill="#777"/><circle cx="9" cy="9" r="3" fill="#fff"/>');
T('TradingView',1671,95,'font-size:15.5px;'+G);S(1767,92,9,6,'<path d="M0 0H9L4.5 6Z" fill="#8a8a8a"/>');
S(1805,87,17,17,'<path d="M10 1H16V7M16 1L11 6M7 16H1V10M1 16L6 11" fill="none" stroke="#777" stroke-width="2"/>');
/* left drawing tools */
const lt='fill="none" stroke="#333" stroke-width="1.5"';
S(18,134,32,32,'<path d="M16 1V11M16 21V31M1 16H11M21 16H31" stroke="#19a5c9" stroke-width="1.5"/>');
S(18,181,32,32,`<circle cx="4" cy="28" r="3" ${lt}/><circle cx="27" cy="5" r="3" ${lt}/><path d="M6 26L25 7" ${lt}/>`);
S(18,229,32,32,`<path d="M2 3H28M2 12H24M8 28H28M2 20H28" ${lt}/><circle cx="28" cy="12" r="3" ${lt}/><circle cx="4" cy="28" r="3" ${lt}/>`);
S(18,277,32,32,`<circle cx="9" cy="4" r="2.5" ${lt}/><circle cx="26" cy="4" r="2.5" ${lt}/><circle cx="16" cy="16" r="2.5" ${lt}/><circle cx="4" cy="28" r="2.5" ${lt}/><circle cx="28" cy="27" r="2.5" ${lt}/><path d="M9 6L4 26M10 6L15 14M25 6L18 15M17 18L27 25M15 18L5 26M11 4" ${lt}/>`);
S(18,327,32,32,`<circle cx="3" cy="4" r="2.5" ${lt}/><circle cx="3" cy="17" r="2.5" ${lt}/><circle cx="3" cy="28" r="2.5" ${lt}/><circle cx="28" cy="17" r="2.5" ${lt}/><path d="M6 4H30M6 28H30M6 17H25M6 15L26 5" ${lt}/>`);
S(18,374,32,32,`<path d="M2 30C3 20 8 16 14 17C17 24 11 30 2 30ZM12 14L28 2M17 18L30 6" ${lt}/>`);
S(24,424,20,28,'<path d="M1 4V1H19V4M10 1V27M6 27H14" fill="none" stroke="#333" stroke-width="1.5"/>');
S(18,470,32,32,`<circle cx="16" cy="16" r="14" ${lt}/><circle cx="12" cy="12" r="1.2" fill="#333"/><circle cx="20" cy="12" r="1.2" fill="#333"/><path d="M11 19C13 23 19 23 21 19" ${lt}/>`);
R(10,518,48,2,`background:${LINE}`);
S(18,535,32,32,`<path d="M2 23L24 2L30 8L8 30ZM7 18L10 21M11 14L14 17M15 10L18 13M19 6L22 9" ${lt}/>`);
S(18,582,32,32,`<circle cx="14" cy="14" r="12" ${lt}/><path d="M14 8V20M8 14H20M23 23L30 31" ${lt}/>`);
R(10,631,48,2,`background:${LINE}`);
S(21,650,26,30,`<path d="M2 28V13A11 11 0 0 1 24 13V28H17V13A4 4 0 0 0 9 13V28ZM2 22H9M17 22H24" ${lt}/>`);
S(18,698,32,32,`<path d="M2 26L16 3L23 7L9 30L2 30Z" ${lt}/><rect x="21" y="20" width="10" height="10" rx="1" ${lt}/><path d="M23 20V16A3 3 0 0 1 29 16V20" ${lt}/>`);
S(22,745,24,30,`<rect x="2" y="13" width="20" height="16" rx="2" ${lt}/><path d="M6 13V8A6 6 0 0 1 18 8" ${lt}/><circle cx="12" cy="21" r="2" fill="#333"/>`);
S(24,792,18,8,'<path d="M2 7L9 1L16 7" fill="none" stroke="#333" stroke-width="1.5"/>');
/* chart legends */
const dots=(x,y)=>[0,10,20].forEach((d,i)=>R(x+d,y-3,6,6,`border-radius:50%;background:${['#aaa','#c4c4c4','#e2e2e2'][i]}`));
T('BTCUSDT 永续 最新价格 · 1 · Bitget',86,140,'font-size:21px;color:#747474');
const NUM='font-size:18.5px;letter-spacing:.25px;';
T('开=',435,140,'font-size:17px;color:#747474');T('93,199.3',464,140,NUM+RD);
T('高=',547,140,'font-size:17px;color:#747474');T('93,199.3',576,140,NUM+RD);
T('低=',660,140,'font-size:17px;color:#747474');T('93,196.7',689,140,NUM+RD);
T('收=',772,140,'font-size:17px;color:#747474');T('93,196.7',801,140,NUM+RD);
T('−2.6 (−0.00%)',885,140,'font-size:17.5px;'+RD);dots(1017,140);
const maLeg=[['MA 5 close 0','93,198.1','#9c5fc9',172,202,292],['MA 10 close 0','93,181.3','#84aade',204,212,302],['MA 15 close 0','93,205.6','#5eb264',236,212,302],['MA 30 close 0','93,239.9','#bb2a8e',268,212,302]];
maLeg.forEach(m=>{T(m[0],86,m[3],'font-size:17.5px;color:#747474');T(m[1],m[4],m[3],NUM+'color:'+m[2]);dots(m[5],m[3])});
R(86,286,38,26,'border:1px solid #dcdcdc;border-radius:4px;background:#fff;box-sizing:border-box');S(98,296,14,7,'<path d="M1 6L7 1L13 6" fill="none" stroke="#222" stroke-width="1.8"/>');
T('成交量(Volume)',86,380,'font-size:17.5px;color:#747474');T('1.2427',222,380,'font-size:18px;'+RD);dots(294,380);
T('RSI 15',86,557,'font-size:17.5px;color:#747474');T('44.56',150,557,'font-size:18.5px;color:#7e57c2');dots(212,557);
S(91,650,42,42,'<circle cx="21" cy="21" r="21" fill="#fff"/><path d="M7 14H22V20H18V29H12V20H7ZM25 14H36L29 29H23L27 20H25Z" fill="#111"/>');
/* axis value tags */
const tags=[['93,239.9','#b5218c',188,'#fff'],['93,205.6','#57b165',211,'#111'],['93,198.1','#9565c4',233,'#f3f3f3'],['93,196.7','#f6483e',256,'#fff'],['93,181.3','#85a9d8',279,'#111']];
tags.forEach(t=>{R(1748,t[2],87,23,`background:${t[1]};border-radius:${t[2]==188?'2px 2px 0 0':t[2]==279?'0 0 2px 2px':'0'}`);T(t[0],1758,t[2]+11.5,`font-size:16.5px;color:${t[3]}`)});
R(1748,511,72,22,'background:#f6635a;border-radius:2px 2px 0 0');T('1.2427',1759,522,'font-size:16.5px;color:#fff');
R(1748,620,62,23,'background:#7e57c2;border-radius:0 2px 2px 0');T('44.56',1758,631.5,'font-size:16.5px;color:#fff');
S(1787,719,20,21,'<path d="M5.5 1H14.5L19 10.5L14.5 20H5.5L1 10.5Z" fill="none" stroke="#333" stroke-width="1.4"/><circle cx="10" cy="10.5" r="2.6" fill="none" stroke="#333" stroke-width="1.4"/>');
T('18:58:35 UTC+8',1546,773,'font-size:18.5px;color:#222');T('%',1719,773,'font-size:18px;color:#222');T('log',1753,773,'font-size:18px;color:#222');T('自动',1797,773,'font-size:18.5px;color:#1da2d0');
/* lower robot section */
T('运行中的机器人 (0)',26,836,'font-size:18px;color:#222');T('历史交易机器人',225,836,'font-size:18.5px;'+G);T('我的收藏',399,836,'font-size:18.5px;'+G);
R(93,860,22,4,'background:#222;border-radius:1px');
R(15,875,436,42,'background:#f4f5f6;border-radius:8px');R(19,877,141,38,'background:#fff;border-radius:7px');
T('自创机器人',88,895,'font-size:16px;color:#222','c');T('跟单机器人',233,895,'font-size:16px;'+G,'c');T('带单机器人',377,895,'font-size:16px;'+G,'c');
const cards=[['920.65%','88.7785 USDT'],['920.65%','88.7785 USDT'],['912.62%','80.815 USDT']];
cards.forEach((c,i)=>{const o=i*611;
 R(15+o,939,588,230,'box-sizing:border-box;border:1px solid #ebebeb;border-radius:16px');
 T('BTCUSDT',32+o,967,'font-size:17.5px;font-weight:600');
 R(32+o,987,38,25,'box-sizing:border-box;border:1px solid #f6483e;border-radius:4px');T('做空',51+o,999.5,'font-size:13px;'+RD,'c');
 R(75+o,987,28,25,'box-sizing:border-box;border:1px solid #f6483e;border-radius:4px');T('5X',89+o,999.5,'font-size:13px;'+RD,'c');
 R(513+o,963,74,42,'background:#131316;border-radius:10px');T('使用',550+o,984,'font-size:16px;color:#fff;font-weight:600','c');
 T('30天回测收益率',32+o,1050,'font-size:16px;'+G);R(32+o,1061,112,0,'border-top:1px dashed #d5d5d5');
 T(c[0],32+o,1079,'font-size:23px;font-weight:700;'+GR);
 T('最小投资额',32+o,1126,'font-size:16px;'+G);T(c[1],587+o,1126,'font-size:15.5px;font-weight:500','r')});
/* right order panel */
const PX=1868,RE=2345,F4='background:#f4f5f6;';
T('合约网格',PX,38.5,'font-size:21px;font-weight:700');T('新手引导',RE,37.5,'font-size:15.8px;color:#555','r');R(2281,50,64,0,'border-top:1px dashed #ccc');
R(1867,76,478,46,F4+'border-radius:12px');R(2106,78,236,40.5,'background:#fff;border-radius:9px');
T('AI 交易机器人',1988,98,'font-size:16px;font-weight:500;'+G,'c');T('手动创建',2224,98,'font-size:16px;font-weight:500','c');
R(1867,143,59,32,F4+'border-radius:8px');T('做多',1897,159,'font-size:16px','c');T('做空',1966,159,'font-size:16px;'+G,'c');T('中性',2035,159,'font-size:16px;'+G,'c');
T('价格区间',PX,216,'font-size:16px;font-weight:500');T('AI 参数',RE,216,'font-size:16px','r');S(2272,208,14,14,'<path d="M1 11L8 3L12 6L6 12H1ZM1 13H13" fill="#222" stroke="#222" stroke-width="1"/>');
R(1867,237.5,226,51.5,F4+'border-radius:12px');R(2119,237.5,226,51.5,F4+'border-radius:12px');
T('最低价格',1885,263,'font-size:16px;color:#bdbdbd');T('-',2106,263,'font-size:14px','c');T('最高价格',2137,263,'font-size:16px;color:#bdbdbd');
T('网格数量',PX,336,'font-size:16px;font-weight:500');R(1867,357,478,53,F4+'border-radius:12px');
T('2-500',1885,383,'font-size:15px;color:#bdbdbd');T('等差',2278,383,'font-size:16px');S(2315,380,10,6,'<path d="M0 0H10L5 6Z" fill="#222"/>');
T('每格利润率（已扣除手续费）',PX,423,'font-size:16px;'+G);T('--',RE,423,'font-size:14px;'+G,'r');
T('每格净利润（USDT）',PX,447,'font-size:16px;'+G);T('--',RE,447,'font-size:14px;'+G,'r');
T('保证金',PX,504,'font-size:16px;font-weight:500');T('5X',2300,504,'font-size:15.5px;font-weight:500');S(2324,502,10,6,'<path d="M0 0H10L5 6Z" fill="#222"/>');
R(1867,525,478,52,F4+'border-radius:12px');T('推荐 ≥ 500',1885,551,'font-size:15.5px;color:#bdbdbd');T('USDT',2330,551,'font-size:15px;font-weight:500','r');
R(1870,598.5,468,3,'background:#ececec');[1992,2107,2222,2338].forEach(x=>S(x-5,595,10,10,'<path d="M5 0L10 5L5 10L0 5Z" fill="#e4e4e4"/>'));
S(1871,592,16,15,'<path d="M5 0H11L16 7.5L11 15H5L0 7.5Z" fill="#131316"/>');
R(1870,621,19,18,'background:#131316;border-radius:4px');S(1873,625,13,10,'<path d="M1 5L5 9L12 1" fill="none" stroke="#fff" stroke-width="1.8"/>');
T('自动预留保证金',1901,628,'font-size:16px;color:#333');R(1901,639,110,0,'border-top:1px dashed #bbb');
T('实际保证金+预留保证金',PX,662.5,'font-size:16px;'+G);T('-- USDT',RE,662.5,'font-size:15.5px;font-weight:500','r');
T('合约账户可用',PX,696,'font-size:16px;'+G);S(1969,693,10,6,'<path d="M0 0H10L5 6Z" fill="#222"/>');
T('61.93563494 USDT',2323,696,'font-size:14.5px;font-weight:500','r');T('⇋',2337,696,'font-size:15px;font-family:DejaVu Sans','c');
T('预估爆仓价',PX,722.5,'font-size:16px;'+G);R(PX,734,80,0,'border-top:1px dashed #bbb');T('--',RE,722.5,'font-size:14px;'+G,'r');
T('分润比例',PX,779,'font-size:16px;font-weight:500');T('10%',2320,779,'font-size:15.5px','r');S(2327,774,14,8,'<path d="M1 7L7 1L13 7" fill="none" stroke="#222" stroke-width="1.6"/>');
[['0%',1867,0],['10%',1989,1],['20%',2111,0],['30%',2233,0]].forEach(b=>{R(b[1],796,112,52,F4+'box-sizing:border-box;border-radius:10px;border:1px solid '+(b[2]?'#131316':'#eeeeee'));T(b[0],b[1]+56,822,'font-size:16.5px','c')});
T('高级设置',PX,886.5,'font-size:16px;font-weight:500');S(2327,883,14,8,'<path d="M1 1L7 7L13 1" fill="none" stroke="#222" stroke-width="1.6"/>');
T('若需要在 App 端管理您的带单或跟单机器人，请将 App 更新至2.69',PX,953,'font-size:15.6px;color:#ff8f3f');T('及以上版本。',PX,976,'font-size:15.6px;color:#ff8f3f');
R(1867,1010,478,54,'background:#131316;border-radius:12px');T('创建订单',2106,1037,'font-size:18px;font-weight:600;color:#fff','c');
</script></body></html>
